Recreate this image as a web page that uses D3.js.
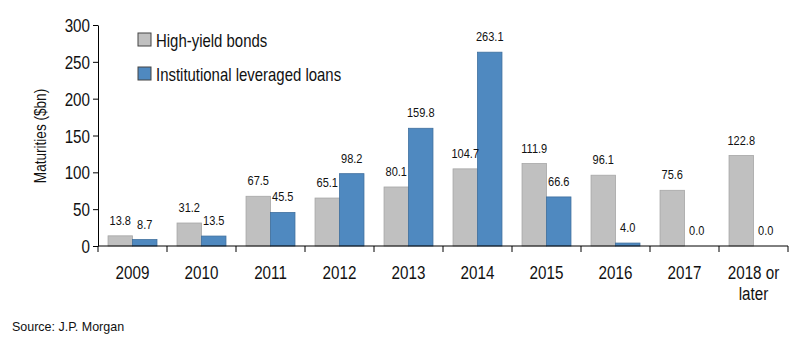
<!DOCTYPE html>
<html lang="en">
<head>
<meta charset="utf-8">
<title>Maturities</title>
<script src="https://d3js.org/d3.v7.min.js"></script>
<style>
  body { margin: 0; background: #fff; }
  svg text { fill: #111; }
  .narrow { font-family: "Liberation Sans", Arial, sans-serif; }
  .lbl { font-family: "Liberation Sans", Arial, sans-serif; font-size: 12px; }
</style>
</head>
<body>
<div id="chart"></div>
<script>
// data
var categories = ["2009", "2010", "2011", "2012", "2013", "2014", "2015", "2016", "2017", "2018 or later"];
var seriesNames = ["High-yield bonds", "Institutional leveraged loans"];
var highYield = [13.8, 31.2, 67.5, 65.1, 80.1, 104.7, 111.9, 96.1, 75.6, 122.8];
var leveragedLoans = [8.7, 13.5, 45.5, 98.2, 159.8, 263.1, 66.6, 4.0, 0.0, 0.0];
var yTicks = [0, 50, 100, 150, 200, 250, 300];

var w = 793, h = 341;
var margin = { top: 25, right: 5, bottom: 95, left: 98 };
var width = w - margin.left - margin.right, height = h - margin.top - margin.bottom;
var colors = ["#c0c0c0", "#4f89c0"];
var strokes = ["#a6a6a6", "#3f6f9e"];
var squeeze = 0.8; // narrow-font look

var svg = d3.select("#chart").append("svg")
  .attr("width", w).attr("height", h);
var g = svg.append("g").attr("transform", `translate(${margin.left},${margin.top})`);

var x = d3.scaleBand().domain(categories).range([0, width]).paddingInner(0).paddingOuter(0);
var xSub = d3.scaleBand().domain([0, 1]).range([0, x.bandwidth()]).paddingOuter(0.41).paddingInner(0);
var y = d3.scaleLinear().domain([0, 300]).range([height, 0]);

// bars
var rows = categories.map((c, i) => ({ cat: c, vals: [highYield[i], leveragedLoans[i]] }));
var groups = g.selectAll("g.grp").data(rows).join("g")
  .attr("class", "grp")
  .attr("transform", d => `translate(${x(d.cat)},0)`);

groups.selectAll("rect")
  .data(d => d.vals.map((v, k) => ({ v: v, k: k })))
  .join("rect")
  .attr("x", d => xSub(d.k))
  .attr("width", xSub.bandwidth())
  .attr("y", d => y(d.v))
  .attr("height", d => height - y(d.v))
  .attr("fill", d => colors[d.k])
  .attr("stroke", d => d.v > 0 ? strokes[d.k] : "none")
  .attr("stroke-width", 0.8);

groups.selectAll("text")
  .data(d => d.vals.map((v, k) => ({ v: v, k: k })))
  .join("text")
  .attr("class", "lbl")
  .attr("text-anchor", "middle")
  .attr("transform", d => `translate(${xSub(d.k) + xSub.bandwidth() / 2},${y(d.v) - 11}) scale(0.92,1)`)
  .text(d => d.v.toFixed(1));

// y axis
var yAxis = g.append("g")
  .call(d3.axisLeft(y).tickValues(yTicks).tickSize(5).tickPadding(4).tickSizeOuter(0));
yAxis.selectAll("text")
  .attr("class", "narrow")
  .style("font-size", "19px")
  .attr("x", 0)
  .attr("dy", "0.35em")
  .attr("transform", `translate(-8,0) scale(${squeeze},1)`);
yAxis.selectAll("path, line").attr("stroke", "#000");

// x axis with ticks at category boundaries
var xAxisG = g.append("g").attr("transform", `translate(0,${height})`);
xAxisG.append("line").attr("x1", 0).attr("x2", width).attr("y1", 0).attr("y2", 0).attr("stroke", "#000");
xAxisG.selectAll("line.tk")
  .data(categories.concat([null]))
  .join("line")
  .attr("class", "tk")
  .attr("x1", (d, i) => i < categories.length ? x(d) : width)
  .attr("x2", (d, i) => i < categories.length ? x(d) : width)
  .attr("y1", 0).attr("y2", 6)
  .attr("stroke", "#000");

xAxisG.selectAll("text.cat")
  .data(categories)
  .join("text")
  .attr("class", "cat narrow")
  .attr("text-anchor", "middle")
  .style("font-size", "19px")
  .attr("transform", d => `translate(${x(d) + x.bandwidth() / 2},33) scale(${squeeze},1)`)
  .each(function(d) {
    var parts = d === "2018 or later" ? ["2018 or", "later"] : [d];
    var t = d3.select(this);
    parts.forEach((p, i) => t.append("tspan").attr("x", 0).attr("dy", i === 0 ? 0 : 21).text(p));
  });

// y title
svg.append("text")
  .attr("class", "narrow")
  .style("font-size", "17px")
  .attr("text-anchor", "middle")
  .attr("transform", `translate(46,${margin.top + 111}) rotate(-90) scale(${squeeze},1)`)
  .text("Maturities ($bn)");

// legend
var legend = svg.append("g").attr("transform", "translate(138,33)");
legend.selectAll("rect").data(seriesNames).join("rect")
  .attr("x", 0).attr("y", (d, i) => i * 34)
  .attr("width", 13).attr("height", 13)
  .attr("fill", (d, i) => colors[i])
  .attr("stroke", "#444").attr("stroke-width", 1);
legend.selectAll("text").data(seriesNames).join("text")
  .attr("class", "narrow")
  .style("font-size", "18px")
  .attr("transform", (d, i) => `translate(18,${i * 34 + 14}) scale(0.83,1)`)
  .text(d => d);

// source
svg.append("text")
  .attr("class", "lbl")
  .style("font-size", "13px")
  .attr("transform", `translate(12,331) scale(0.96,1)`)
  .text("Source: J.P. Morgan");
</script>
</body>
</html>
